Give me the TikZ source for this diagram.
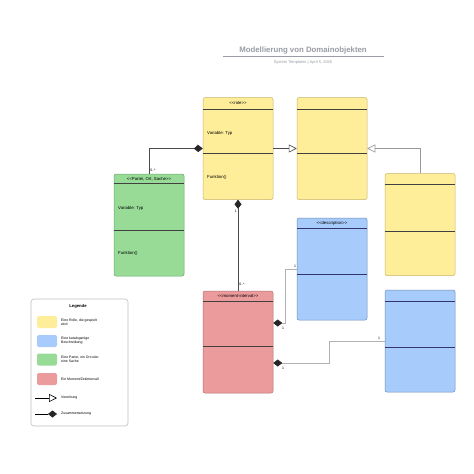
\documentclass[tikz,border=0pt]{standalone}
\usepackage{fontspec}
\setmainfont{Liberation Sans}
\usetikzlibrary{arrows.meta}

\definecolor{rollegelb}{HTML}{FFEE99}
\definecolor{rollerand}{HTML}{C9B46A}
\definecolor{beschrblau}{HTML}{A7CBFB}
\definecolor{beschrrand}{HTML}{6F8DB5}
\definecolor{parteigruen}{HTML}{97DB97}
\definecolor{parteirand}{HTML}{6BA86B}
\definecolor{momentrot}{HTML}{EB9B9B}
\definecolor{momentrand}{HTML}{B27272}
\definecolor{titelgrau}{HTML}{9A9CA6}

\newcommand{\winzig}{\fontsize{4.3}{4.9}\selectfont}
\newcommand{\mikro}{\fontsize{3.5}{4.1}\selectfont}
\newcommand{\stereo}[1]{\textless{}\textless{}#1\textgreater{}\textgreater{}}

\tikzset{
	klasse/.style = {draw, rounded corners=2pt, line width=0.5pt, minimum width=70pt, minimum height=102pt, inner sep=0pt},
	trenn/.style = {line width=0.8pt, draw=black!75},
	txt/.style = {font=\winzig, inner sep=0pt},
	vererb/.style = {draw=gray!80, line width=0.6pt, -{Triangle[open, length=8pt, width=8pt]}},
	zusam/.style = {draw=black!70, line width=0.6pt, {Diamond[length=9pt, width=7pt, color=black!85]}-},
	zusamhell/.style = {draw=gray!60, line width=0.6pt, {Diamond[length=9pt, width=7pt, color=black!85]}-},
	mult/.style = {font=\mikro, inner sep=1pt},
	feld/.style = {rounded corners=2pt, minimum width=20pt, minimum height=12pt, inner sep=0pt}
}

\begin{document}
\begin{tikzpicture}[x=1pt, y=-1pt]
	\useasboundingbox[fill=white] (0,0) rectangle (474,474);
	
	% Titel
	\node[font=\fontsize{7.8}{8.4}\selectfont\bfseries, text=titelgrau] (titel) at (303,50) {Modellierung von Domainobjekten};
	\draw[titelgrau, line width=0.6pt] (223,56) -- (384,56);
	\node[font=\fontsize{4}{4.5}\selectfont, text=titelgrau] (untertitel) at (303,62) {System Templates \textbar{} April 5, 2026};
	
	% Klassen
	\node[klasse, fill=rollegelb, draw=rollerand] (rolle) at (238,148.5) {};
	\node[klasse, fill=rollegelb, draw=rollerand] (rolleb) at (332,148.5) {};
	\node[klasse, fill=rollegelb, draw=rollerand] (rollec) at (420,224.5) {};
	\node[klasse, fill=beschrblau, draw=beschrrand] (beschr) at (332,269) {};
	\node[klasse, fill=parteigruen, draw=parteirand] (partei) at (149,225) {};
	\node[klasse, fill=momentrot, draw=momentrand] (moment) at (238,342) {};
	\node[klasse, fill=beschrblau, draw=beschrrand] (beschrb) at (420,341) {};
	
	% Trennlinien
	\draw[trenn] ([yshift=-12pt]rolle.north west) -- ([yshift=-12pt]rolle.north east);
	\draw[trenn] ([yshift=-56pt]rolle.north west) -- ([yshift=-56pt]rolle.north east);
	\draw[trenn] ([yshift=-12pt]rolleb.north west) -- ([yshift=-12pt]rolleb.north east);
	\draw[trenn] ([yshift=-56pt]rolleb.north west) -- ([yshift=-56pt]rolleb.north east);
	\draw[trenn] ([yshift=-11pt]rollec.north west) -- ([yshift=-11pt]rollec.north east);
	\draw[trenn] ([yshift=-58pt]rollec.north west) -- ([yshift=-58pt]rollec.north east);
	\draw[trenn, draw=blue!30!black!80] ([yshift=-11pt]beschr.north west) -- ([yshift=-11pt]beschr.north east);
	\draw[trenn, draw=blue!30!black!80] ([yshift=-57pt]beschr.north west) -- ([yshift=-57pt]beschr.north east);
	\draw[trenn] ([yshift=-10pt]partei.north west) -- ([yshift=-10pt]partei.north east);
	\draw[trenn] ([yshift=-57pt]partei.north west) -- ([yshift=-57pt]partei.north east);
	\draw[trenn] ([yshift=-11pt]moment.north west) -- ([yshift=-11pt]moment.north east);
	\draw[trenn] ([yshift=-56pt]moment.north west) -- ([yshift=-56pt]moment.north east);
	\draw[trenn, draw=blue!30!black!80] ([yshift=-12pt]beschrb.north west) -- ([yshift=-12pt]beschrb.north east);
	\draw[trenn, draw=blue!30!black!80] ([yshift=-58pt]beschrb.north west) -- ([yshift=-58pt]beschrb.north east);
	
	% Klassentexte
	\node[txt] (rollekopf) at ([yshift=-6pt]rolle.north) {\stereo{role}};
	\node[txt, anchor=west] (rollevar) at (207,133) {Variable: Typ};
	\node[txt, anchor=west] (rollefkt) at (207,177) {Funktion()};
	\node[txt] (beschrkopf) at ([yshift=-5.5pt]beschr.north) {\stereo{description}};
	\node[txt] (parteikopf) at ([yshift=-5pt]partei.north) {\stereo{Partei, Ort, Sache}};
	\node[txt, anchor=west] (parteivar) at (118,208) {Variable: Typ};
	\node[txt, anchor=west] (parteifkt) at (118,253) {Funktion()};
	\node[txt] (momentkopf) at ([yshift=-5.5pt]moment.north) {\stereo{moment-interval}};
	
	% Vererbung
	\draw[vererb, draw=black!70] (rolle) -- (rolleb);
	\draw[vererb] (rollec.north) |- (rolleb.east);
	
	% Zusammensetzung
	\draw[zusam] (rolle.west) -| (partei.north)
		node[mult, pos=0.05, above] {1}
		node[mult, pos=0.93, right] {0..*};
	\draw[zusam] (rolle.south) -- (moment.north)
		node[mult, pos=0.13, left] {1}
		node[mult, pos=0.93, right] {0..*};
	\coordinate (mr1) at ([yshift=19pt]moment.east);
	\coordinate (mr2) at ([yshift=-21pt]moment.east);
	\draw[zusamhell] (mr1) -- ++(12,0) |- (beschr.west)
		node[mult, pos=0.93, above] {1};
	\node[mult] (mr1lbl) at (283,328) {1};
	\draw[zusamhell] (mr2) -- ++(56,0) |- (beschrb.west)
		node[mult, pos=0.95, above] {1};
	\node[mult] (mr2lbl) at (283,368) {1};
	
	% Legende
	\node[draw=gray!50, rounded corners=3pt, minimum width=97pt, minimum height=127pt, inner sep=0pt, line width=0.6pt] (legende) at (79.5,362.5) {};
	\node[font=\fontsize{4.2}{4.7}\selectfont\bfseries] (legtitel) at (78,306) {Legende};
	\node[feld, fill=rollegelb] (fa) at (47,322) {};
	\node[feld, fill=beschrblau] (fb) at (47,341) {};
	\node[feld, fill=parteigruen] (fc) at (47,359.5) {};
	\node[feld, fill=momentrot] (fd) at (47,379) {};
	\node[font=\mikro, anchor=west, align=left, inner sep=0pt] (ta) at (61,322) {Eine Rolle, die gespielt\\wird};
	\node[font=\mikro, anchor=west, align=left, inner sep=0pt] (tb) at (61,341) {Eine katalogartige\\Beschreibung};
	\node[font=\mikro, anchor=west, align=left, inner sep=0pt] (tc) at (61,359.5) {Eine Partei, ein Ort oder\\eine Sache};
	\node[font=\mikro, anchor=west, align=left, inner sep=0pt] (td) at (61,379) {Ein Moment/Zeitintervall};
	\coordinate (va) at (35,398);
	\coordinate (vb) at (57,398);
	\draw[vererb, draw=black] (va) -- (vb);
	\node[font=\mikro, anchor=west, inner sep=0pt] (te) at (61,398) {Vererbung};
	\coordinate (za) at (57,414);
	\coordinate (zb) at (35,414);
	\draw[zusam, draw=black] (za) -- (zb);
	\node[font=\mikro, anchor=west, inner sep=0pt] (tf) at (61,414) {Zusammensetzung};
\end{tikzpicture}
\end{document}
